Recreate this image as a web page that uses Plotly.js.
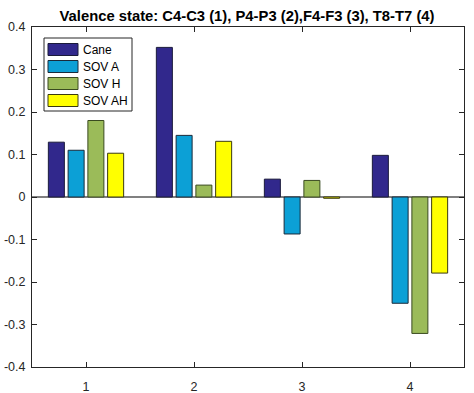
<!DOCTYPE html>
<html>
<head>
<meta charset="utf-8">
<script src="https://cdn.plot.ly/plotly-3.0.1.min.js"></script>
<style>html,body{margin:0;padding:0;background:#fff;}#chart{width:474px;height:393px;}</style>
</head>
<body>
<div id="chart"></div>
<script>
const categories = [1, 2, 3, 4];
const seriesNames = ['Cane', 'SOV A', 'SOV H', 'SOV AH'];
const cane  = [0.129, 0.352, 0.042, 0.098];
const sovA  = [0.110, 0.145, -0.087, -0.250];
const sovH  = [0.180, 0.028, 0.039, -0.321];
const sovAH = [0.103, 0.131, -0.003, -0.179];
const yTicks = [-0.4, -0.3, -0.2, -0.1, 0, 0.1, 0.2, 0.3, 0.4];
const yTickLabels = ['-0.4', '-0.3', '-0.2', '-0.1', '0', '0.1', '0.2', '0.3', '0.4'];

const fills = ['#31288c', '#0ca0d6', '#9bbb59', '#ffff00'];
const edges = ['#1a1a3a', '#1a2a3a', '#3a4a20', '#3a3a10'];
const values = [cane, sovA, sovH, sovAH];

const traces = values.map((v, i) => ({
  type: 'bar',
  x: categories,
  y: v,
  name: seriesNames[i],
  marker: {color: fills[i], line: {color: edges[i], width: 1}},
  hoverinfo: 'none'
}));

// plot area in pixels (for the hand-built MATLAB-style legend)
const PL = 32, PR = 464, PT = 27, PB = 367;
const px = v => (v - PL) / (PR - PL);
const py = v => (PB - v) / (PB - PT);

const shapes = [];
const annotations = [];
// legend box
shapes.push({type: 'rect', xref: 'paper', yref: 'paper',
  x0: px(44), x1: px(132), y0: py(111), y1: py(38),
  fillcolor: '#ffffff', line: {color: '#262626', width: 1}, layer: 'above'});
seriesNames.forEach((name, i) => {
  const top = 43.5 + i * 17;
  shapes.push({type: 'rect', xref: 'paper', yref: 'paper',
    x0: px(48), x1: px(78), y0: py(top + 12), y1: py(top),
    fillcolor: fills[i], line: {color: edges[i], width: 1}, layer: 'above'});
  annotations.push({xref: 'paper', yref: 'paper', x: px(81), y: py(top + 6.5),
    xanchor: 'left', yanchor: 'middle', showarrow: false, text: name,
    font: {size: 12, color: '#000000'}});
});

const axisColor = '#262626';
const layout = {
  width: 474, height: 393,
  margin: {l: PL, r: 474 - PR, t: PT, b: 393 - PB, pad: 0},
  paper_bgcolor: '#ffffff', plot_bgcolor: '#ffffff',
  font: {family: 'Liberation Sans, Arial, sans-serif', size: 12, color: axisColor},
  title: {
    text: '<b>Valence state: C4-C3 (1), P4-P3 (2),F4-F3 (3), T8-T7 (4)</b>',
    font: {family: 'Liberation Sans, Arial, sans-serif', size: 14.8, color: '#000000'},
    x: 247/474, xref: 'container', xanchor: 'center',
    y: 1 - 15.5/393, yref: 'container', yanchor: 'middle'
  },
  barmode: 'group',
  bargap: 0.268,
  bargroupgap: 0.19,
  showlegend: false,
  shapes: shapes,
  annotations: annotations,
  xaxis: {
    range: [0.5, 4.5],
    tickvals: categories,
    ticktext: categories.map(String),
    ticks: 'inside', ticklen: 5, tickcolor: axisColor, tickwidth: 1,
    showline: true, linecolor: axisColor, linewidth: 1, mirror: 'ticks',
    showgrid: false, zeroline: false,
    ticklabelstandoff: 8,
    tickfont: {size: 12.5, color: axisColor},
    fixedrange: true
  },
  yaxis: {
    range: [-0.4, 0.4],
    tickvals: yTicks,
    ticktext: yTickLabels,
    ticks: 'inside', ticklen: 5, tickcolor: axisColor, tickwidth: 1,
    showline: true, linecolor: axisColor, linewidth: 1, mirror: 'ticks',
    showgrid: false,
    zeroline: true, zerolinecolor: '#808080', zerolinewidth: 1.5,
    ticklabelstandoff: 3,
    tickfont: {size: 12.5, color: axisColor},
    fixedrange: true
  }
};

Plotly.newPlot('chart', traces, layout, {displayModeBar: false, staticPlot: true});
</script>
</body>
</html>
